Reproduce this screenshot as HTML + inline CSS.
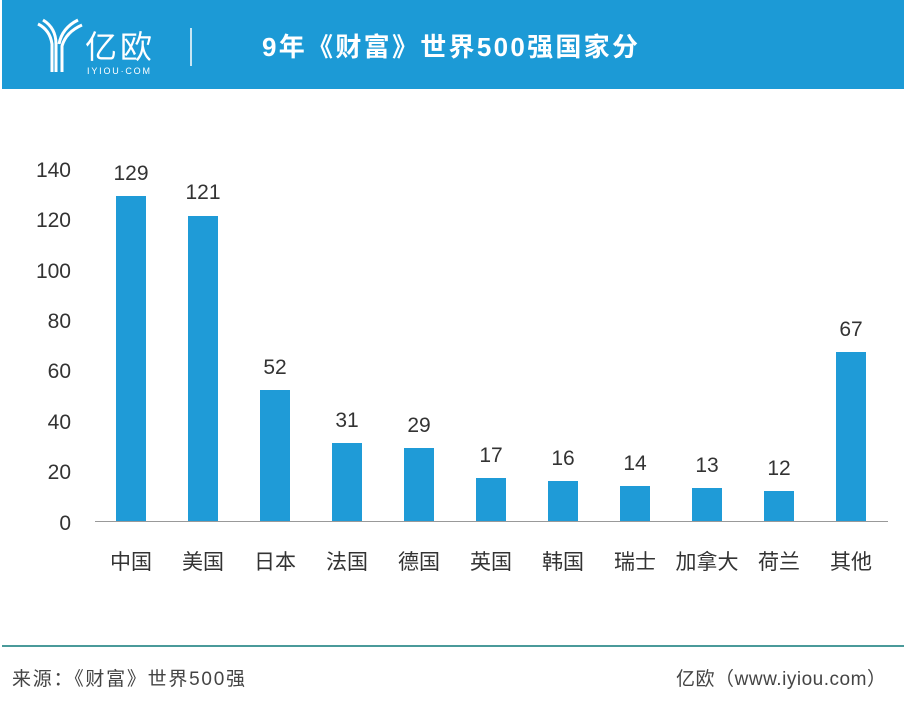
<!DOCTYPE html>
<html><head><meta charset="utf-8"><style>
body{margin:0;width:904px;height:705px;background:#fff;overflow:hidden;font-family:"Liberation Sans","Noto Sans CJK SC",sans-serif;}
</style></head><body>
<svg width="904" height="705" xmlns="http://www.w3.org/2000/svg" font-family="Liberation Sans, Noto Sans CJK SC, sans-serif">
<rect x="2" y="0" width="902" height="89" fill="#1c9ad6"/>
<g stroke="#fff" stroke-width="3" fill="none">
<path d="M38 24 Q50 30 52 44 L52 72"/><path d="M43 20 Q56 28 56 44 L56 72"/><path d="M78 20 Q62 28 59 44"/><path d="M82 25 Q66 32 62 46 L62 72"/>
</g>
<text x="85" y="58" font-size="32" fill="#fff" textLength="67">亿欧</text>
<text x="87" y="74" font-size="9" fill="#fff" textLength="63">IYIOU·COM</text>
<line x1="191" y1="28" x2="191" y2="66" stroke="#fff" stroke-width="1.5"/>
<text x="262" y="56" font-size="26" font-weight="bold" fill="#fff" textLength="376">9年《财富》世界500强国家分</text>
<g font-size="21" fill="#333" text-anchor="end">
<text x="71" y="530">0</text><text x="71" y="479">20</text><text x="71" y="429">40</text><text x="71" y="378">60</text><text x="71" y="328">80</text><text x="71" y="278">100</text><text x="71" y="227">120</text><text x="71" y="177">140</text>
</g>
<line x1="95" y1="521.5" x2="888" y2="521.5" stroke="#999" stroke-width="1"/>
<g fill="#1f9bd7">
<rect x="116" y="196" width="30" height="325"/>
<rect x="188" y="216" width="30" height="305"/>
<rect x="260" y="390" width="30" height="131"/>
<rect x="332" y="443" width="30" height="78"/>
<rect x="404" y="448" width="30" height="73"/>
<rect x="476" y="478" width="30" height="43"/>
<rect x="548" y="481" width="30" height="40"/>
<rect x="620" y="486" width="30" height="35"/>
<rect x="692" y="488" width="30" height="33"/>
<rect x="764" y="491" width="30" height="30"/>
<rect x="836" y="352" width="30" height="169"/>
</g>
<g font-size="21" fill="#333" text-anchor="middle">
<text x="131" y="180">129</text><text x="203" y="199">121</text><text x="275" y="374">52</text><text x="347" y="427">31</text><text x="419" y="432">29</text><text x="491" y="462">17</text><text x="563" y="465">16</text><text x="635" y="470">14</text><text x="707" y="472">13</text><text x="779" y="475">12</text><text x="851" y="336">67</text>
</g>
<g font-size="21" fill="#333" text-anchor="middle">
<text x="131" y="569">中国</text><text x="203" y="569">美国</text><text x="275" y="569">日本</text><text x="347" y="569">法国</text><text x="419" y="569">德国</text><text x="491" y="569">英国</text><text x="563" y="569">韩国</text><text x="635" y="569">瑞士</text><text x="707" y="569">加拿大</text><text x="779" y="569">荷兰</text><text x="851" y="569">其他</text>
</g>
<line x1="2" y1="646" x2="904" y2="646" stroke="#4a9a9a" stroke-width="2"/>
<text x="12" y="685" font-size="19" fill="#444" textLength="233">来源：《财富》世界500强</text>
<text x="676" y="685" font-size="19" fill="#444" textLength="210">亿欧（www.iyiou.com）</text>
</svg>
</body></html>
